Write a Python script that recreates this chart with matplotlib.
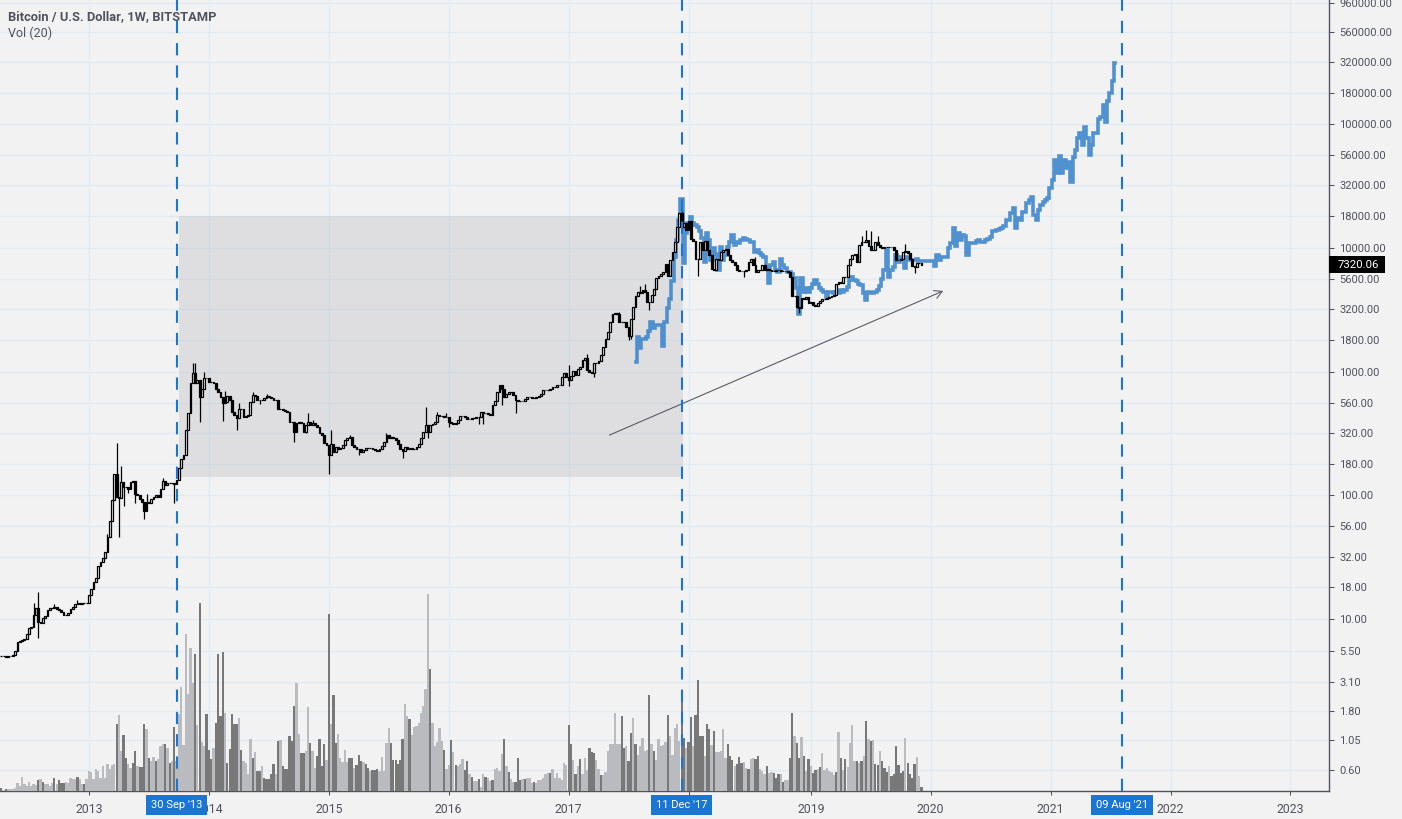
import numpy as np
import pandas as pd
import matplotlib
matplotlib.use("Agg")
import matplotlib.pyplot as plt
from matplotlib.patches import Rectangle

# ---------- data ----------
first_week = "2012-04-16"
closes = [5.0,5.0,4.9,5.0,5.0,5.1,5.5,6.5,6.6,6.8,6.9,7.5,8.4,8.6,
 10.8,12.2,9.5,9.3,10.2,10.6,11.8,12.2,12.3,12.4,12.0,11.9,11.3,10.8,10.7,11.2,12.0,12.6,13.3,13.5,13.3,13.4,13.4,13.5,
 15.5,17.5,20,21.5,27,29,31,35,46,62,92,150,
 97,95,127,117,117,113,129,130,103,100,93,89,75,88,86,93,97,100,97,113,130,122,125,125,125,124,132,
 166,197,212,337,462,803,967,
 803,860,627,730,880,880,820,820,810,730,680,627,553,570,640,590,475,445,420,495,500,432,440,445,570,645,640,590,595,590,615,630,625,617,595,590,500,495,489,480,475,395,390,325,382,395,382,325,370,395,370,382,370,360,318,310,263,255,
 210,260,225,245,235,240,255,280,290,295,255,245,238,238,225,232,240,240,240,238,232,228,238,250,272,308,290,295,290,280,262,235,228,245,235,240,235,238,245,262,290,325,370,325,370,378,395,445,437,437,432,432,
 388,381,375,381,405,440,440,431,412,412,418,424,427,431,475,465,460,452,450,535,575,690,780,730,627,665,680,680,648,590,575,575,582,605,620,620,617,617,620,640,655,705,705,705,725,750,750,780,785,910,970,
 905,860,915,1020,940,1045,1080,1240,1280,1030,1000,975,1165,1180,1220,1350,1580,1850,2100,2520,2950,3000,2950,2520,2520,2520,2300,1950,2650,3300,4070,4430,4350,4560,4430,3650,3650,4200,4650,5750,5950,6200,6400,
 7400,5900,8000,9300,11200,14900,19000,
 14900,16000,14000,16500,11700,11300,8200,8200,11200,9600,11400,9600,8800,6800,6600,8100,8000,9300,9600,9800,8800,8000,7700,7300,6620,6450,6450,6550,6620,7700,8100,7300,6400,6600,6600,7300,6650,6700,6620,6550,6500,6620,6620,6450,6500,6450,6400,5800,4050,4050,3350,3250,3950,3900,4000,3600,3650,3450,3400,3600,3750,3850,3850,3950,4000,4050,4150,5150,5300,5250,5800,5800,7300,8100,8800,9000,7700,10500,11200,11200,11500,10400,9600,9600,11200,10500,10200,10000,10200,10200,10200,10100,9600,8000,8000,8200,9300,9500,9100,8200,7100,7000,7500,7500,7320.06]
high_weeks = [16,50,52,83,84,88,133,143,167,184,246,265,279,295,373,375,377,380,
 14,23,33,46,63,70,97,103,109,115,135,151,189,193,254,268,277,327,392]
high_values = [16.4,263,171,1170,1170,1000,460,340,320,516,1130,2777,5100,20000,12500,14000,13600,12500,
 13.5,13.2,14.3,49,102,137,700,553,680,660,410,310,475,465,1380,3050,4900,8500,10800]
low_weeks = [16,51,53,62,75,86,96,102,127,142,174,194,217,223,246,257,272,273,281,302,346,396,
 55,58,112,132,155,185,207,209,322]
low_values = [7.0,45.7,82,64,86,390,400,337,272,150,200,355,535,465,760,900,1800,1840,3150,5950,3000,6300,
 105,86,550,320,212,290,380,380,5800]

projection_start = "2017-07-24"
projection = [1200,1900,1560,1850,1830,1900,2130,2530,2250,2400,2400,2400,1620,2530,3250,3850,5450,
 8400,11500,16800,25000,7500,13200,16000,17800,15800,15300,14900,13600,12000,7700,13200,11500,8000,9900,9000,6600,10200,8000,8800,10200,11200,12700,10500,11200,10900,11500,12100,11800,11600,11200,11200,9300,9600,9100,8800,8500,7000,5200,7300,7700,6600,6400,8200,7300,6850,6400,6400,6100,5700,4700,2950,5700,4400,4700,4400,4700,5150,5500,5150,4700,4560,4400,4030,4400,4400,4300,4400,4300,4560,4400,4560,4850,5500,5850,5500,5450,5150,5000,4300,3800,4400,4350,4300,4400,4560,4900,5650,6620,9600,5850,6620,7000,8800,7700,8500,8200,6850,8500,8000,8000,8000,8200,7800,7800,7800,7800,7800,
 7900,7900,7140,8780,8000,8500,8500,8500,10000,11000,14500,10300,13100,11600,12700,12500,8800,10900,11000,11000,11400,11600,11200,11200,11600,11900,12300,13600,13600,14000,14200,14500,15000,16700,16700,19000,20900,14500,17300,16700,19600,19600,22900,24300,25900,18400,16700,20200,22100,23300,24400,25200,30400,35500,51600,40200,55400,40200,51600,44100,49900,34400,54700,61900,76800,84500,67900,94500,76800,56400,67900,84500,84500,111000,115000,142000,105000,153000,178000,223000,310000]

# negative = down week (dark bar), positive = up week (light bar); arbitrary volume units
volume_signed = [-8,4,-6,5,5,6,10,25,15,42,22,15,26,15,20,18,-32,35,-26,20,22,15,25,-38,20,-32,-25,-25,28,25,38,36,36,-42,35,22,-20,35,60,58,35,65,60,40,75,38,82,65,78,80,
 -200,228,120,-168,-98,80,70,-85,-120,75,-72,-72,-200,185,-100,90,102,-90,95,135,142,-140,130,-85,90,-192,90,232,313,138,472,292,428,325,-412,198,-565,148,135,-230,-122,-95,128,-205,-410,-225,-418,235,-85,-125,-232,-200,-202,218,-122,90,85,50,155,-100,118,-60,-60,75,-40,-35,-35,-50,-80,50,-150,152,-75,-65,-65,-165,-150,-255,325,170,-115,-115,120,252,-145,120,70,-105,-155,-75,-142,92,
 -530,200,-288,-143,172,100,87,122,87,-98,-100,70,-77,-107,-90,88,-80,-68,60,-62,-62,-67,60,103,60,145,190,-145,-92,-92,-80,-92,-155,260,225,-215,168,192,195,203,235,255,305,590,-365,203,135,148,190,150,-122,65,78,-152,117,-78,75,80,95,-62,-90,50,-42,30,30,-37,12,50,-42,40,30,-33,65,70,60,112,-157,75,-58,35,28,-28,-98,-33,37,-35,38,40,25,-28,25,32,33,38,50,55,-55,65,40,55,40,32,85,78,
 -197,-140,92,-50,75,-95,50,98,62,-130,-118,-115,92,67,-47,48,58,120,142,140,235,140,142,-225,-128,135,-90,-173,218,-142,108,135,160,120,122,-287,
 142,-120,93,157,135,137,147,-228,165,108,190,200,150,-282,-160,130,-147,-222,135,-228,-333,-165,-165,105,-200,-185,138,-180,118,118,120,185,100,-142,-105,-93,75,-82,-103,-85,88,70,-65,97,100,-95,-105,65,60,50,-75,55,58,-55,-40,-50,52,-28,33,33,-100,-235,165,-145,-100,162,-105,60,-97,75,-55,-62,65,-72,115,62,70,60,58,48,-58,177,-100,62,-95,72,145,198,90,-90,85,-90,105,-210,155,-150,152,-80,-78,120,-90,-68,-58,75,-45,-50,-135,-78,-55,-60,158,-85,-50,-40,-82,103,45,-13]

price_ticks = [960000,560000,320000,180000,100000,56000,32000,18000,10000,5600,3200,1800,1000,560,320,180,100,56,32,18,10,5.5,3.1,1.8,1.05,0.6]
year_ticks = ["2013-01-07","2014-01-06","2015-01-05","2016-01-04","2017-01-02","2018-01-01","2019-01-07","2020-01-06","2021-01-04","2022-01-03","2023-01-02"]
year_labels = ["2013","2014","2015","2016","2017","2018","2019","2020","2021","2022","2023"]
marked_dates = ["2013-09-30","2017-12-11","2021-08-09"]
marked_labels = ["30 Sep '13","11 Dec '17","09 Aug '21"]
range_dates = ["2013-10-07","2017-12-15"]
range_prices = [140,18000]
arrow_dates = ["2017-05-06","2020-02-13"]
arrow_prices = [307,4490]
last_price = 7320.06

# ---------- style ----------
BG="#f2f2f3"; GRID="#deebf3"; TXT="#50535e"; BLUE="#1976d2"
FONT="Roboto"
plt.rcParams["font.family"]=[FONT,"DejaVu Sans"]

fig=plt.figure(figsize=(14.02,8.19),dpi=100,facecolor=BG)
ax=fig.add_axes([0,(819-791)/819,1329/1402,791/819],facecolor=BG)
ax.set_yscale("log")
ax.set_ylim(0.407,1.01e6)
ax.set_xlim(pd.Timestamp("2012-04-12"),pd.Timestamp("2023-04-29"))
ax.set_yticks(price_ticks); ax.set_yticklabels([f"{v:.2f}" for v in price_ticks])
ax.yaxis.set_minor_locator(matplotlib.ticker.NullLocator())
ax.set_xticks(pd.to_datetime(year_ticks)); ax.set_xticklabels(year_labels)
ax.grid(True,color=GRID,lw=1); ax.set_axisbelow(True)
for s in ("top","left"): ax.spines[s].set_visible(False)
for s in ("right","bottom"):
    ax.spines[s].set_color(TXT); ax.spines[s].set_linewidth(1)

# range rectangle
r0,r1=pd.to_datetime(range_dates)
ax.fill_between([r0,r1],range_prices[0],range_prices[1],color="#8f929b",alpha=0.2,lw=0,zorder=1)

# blue projection
pw=pd.date_range(projection_start,periods=len(projection),freq="7D")
ax.step(pw,projection,where="mid",color="#4489cc",alpha=0.92,lw=2.6,solid_joinstyle="miter",zorder=2)

# candles
closes_a=np.array(closes,float)
opens=np.r_[closes_a[0],closes_a[:-1]]
weeks=pd.date_range(first_week,periods=len(closes_a),freq="7D")
ax.vlines(weeks[high_weeks],np.maximum(opens,closes_a)[high_weeks],high_values,color="black",lw=0.9,zorder=3)
ax.vlines(weeks[low_weeks],low_values,np.minimum(opens,closes_a)[low_weeks],color="black",lw=0.9,zorder=3)
up=closes_a>=opens
ax.bar(weeks[up],np.maximum(closes_a[up]-opens[up],1e-3),bottom=opens[up],width=5.4,facecolor="#f6f6f6",edgecolor="black",lw=0.9,zorder=4)
ax.bar(weeks[~up],opens[~up]-closes_a[~up],bottom=closes_a[~up],width=5.4,facecolor="black",edgecolor="black",lw=0.9,zorder=4)

# arrow
ad=pd.to_datetime(arrow_dates)
ax.annotate("",xy=(ad[1],arrow_prices[1]),xytext=(ad[0],arrow_prices[0]),
    arrowprops=dict(arrowstyle="->,head_length=0.55,head_width=0.3",color="#5a5c62",lw=0.8,shrinkA=0,shrinkB=0),zorder=5)

# volume on its own overlay
ax2=ax.twinx()
ax2.set_ylim(0,791*3); ax2.axis("off"); ax2.patch.set_visible(False)
vs=np.array(volume_signed,float)
vw=pd.date_range(first_week,periods=len(vs),freq="7D")
ax2.bar(vw[vs>0],vs[vs>0],width=7.0,color="#babbbe",lw=0,zorder=2)
ax2.bar(vw[vs<0],-vs[vs<0],width=6.8,color="#787878",lw=0,zorder=3)

# twinx moves the price ticks to the left, so set them after it
ax.yaxis.tick_right()
ax.tick_params(axis="y",direction="out",length=3.5,width=0.75,color=TXT,labelcolor=TXT,labelsize=8.0,pad=4)
ax.tick_params(axis="x",direction="out",length=2.8,width=0.75,color=TXT,labelcolor=TXT,labelsize=8.8,pad=6)

# marked dates
for d,l in zip(pd.to_datetime(marked_dates),marked_labels):
    ax2.axvline(d,color=BLUE,lw=1.5,dashes=(5.9,4.8),zorder=6)
    ax.text(d,(791-805)/791,l,transform=ax.get_xaxis_transform(),ha="center",va="center",color="white",fontsize=8,
            clip_on=False,zorder=20,bbox=dict(boxstyle="square,pad=0.42",fc=BLUE,ec="none"))

# last price tag
fig.add_artist(Rectangle((1329/1402,1-273/819),56/1402,17/819,transform=fig.transFigure,fc="black",ec="none",zorder=15))
fig.text(1338/1402,1-264.5/819,f"{last_price:.2f}",color="white",fontsize=8.2,va="center",ha="left",zorder=16)

fig.text(8/1402,1-17/819,"Bitcoin / U.S. Dollar, 1W, BITSTAMP",color=TXT,fontsize=9.3,fontweight="bold",va="center",ha="left")
fig.text(8/1402,1-33/819,"Vol (20)",color=TXT,fontsize=9,va="center",ha="left")
fig.savefig("out.png",dpi=100,facecolor=BG)
